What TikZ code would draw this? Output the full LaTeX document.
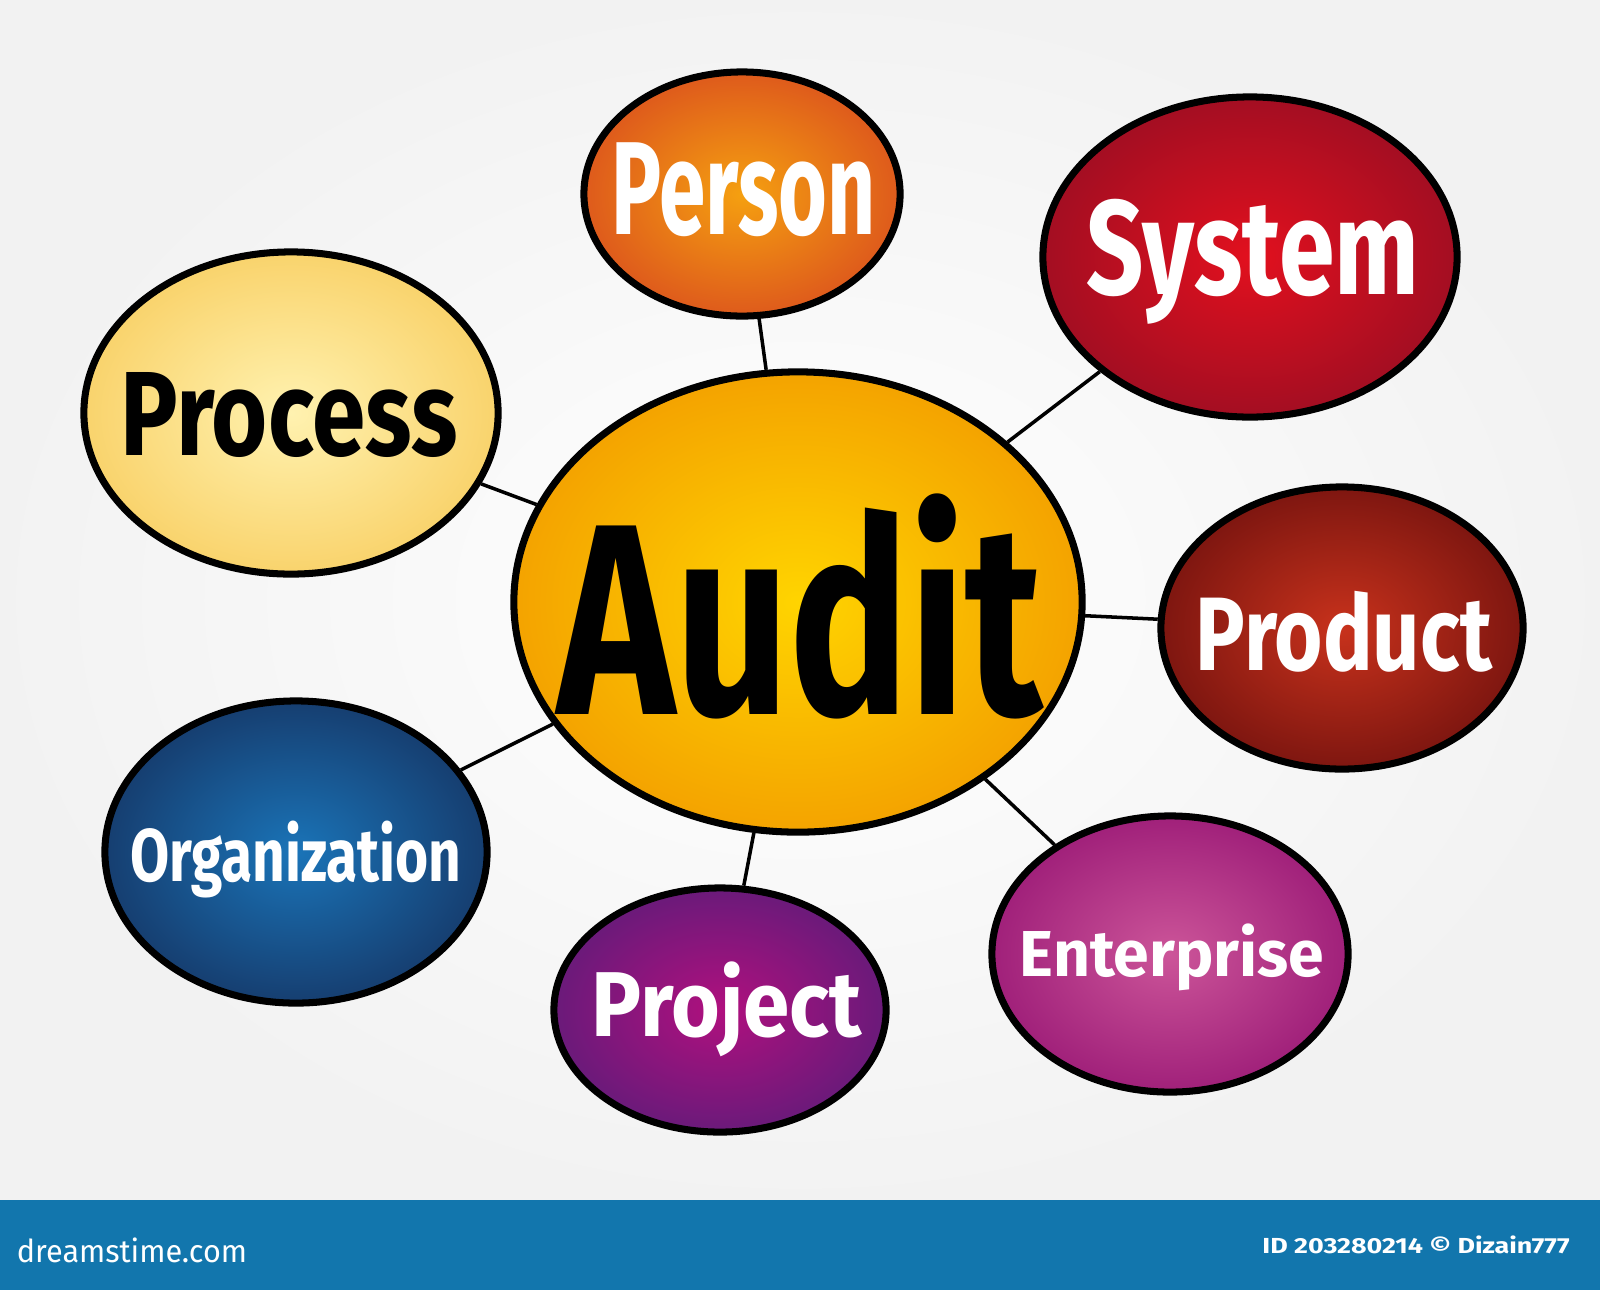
\documentclass[tikz,border=0pt]{standalone}
\usepackage{fontspec}
\setmainfont{Fira Sans}
\usepackage{graphicx}
\usetikzlibrary{shapes.geometric, positioning}

\definecolor{barblue}{HTML}{1276AD}
\definecolor{auditin}{HTML}{FFD400}
\definecolor{auditout}{HTML}{F4A300}
\definecolor{personin}{HTML}{F5A010}
\definecolor{personout}{HTML}{DE5A1C}
\definecolor{systemin}{HTML}{E2101E}
\definecolor{systemout}{HTML}{A30E22}
\definecolor{processin}{HTML}{FFF2B0}
\definecolor{processout}{HTML}{F9D36C}
\definecolor{productin}{HTML}{C8321C}
\definecolor{productout}{HTML}{7E1610}
\definecolor{orgin}{HTML}{1A74B8}
\definecolor{orgout}{HTML}{163E70}
\definecolor{projectin}{HTML}{B0107E}
\definecolor{projectout}{HTML}{6A1A7A}
\definecolor{enterin}{HTML}{CC5599}
\definecolor{enterout}{HTML}{A0207A}

\tikzstyle{bubble} = [ellipse, draw=black, line width=2pt, inner sep=0pt]
\tikzstyle{wordw} = [inner sep=0pt, font=\bfseries, text=white]
\tikzstyle{wordb} = [inner sep=0pt, font=\bfseries, text=black]
\tikzstyle{link} = [line width=1pt]

\newcommand{\fitword}[3]{\resizebox*{#1}{#2}{#3}}

\begin{document}
\begin{tikzpicture}[x=0.01cm, y=-0.01cm]
    \useasboundingbox (0,0) rectangle (1600,1290);
    \shade[inner color=white, outer color=black!5] (0,0) rectangle (1600,1200);
    \fill[barblue] (0,1200) rectangle (1600,1290);

    % center
    \node (audit) [bubble, minimum width=5.68cm, minimum height=4.60cm, inner color=auditin, outer color=auditout] at (798,602) {};
    % branches
    \node (person) [bubble, minimum width=3.16cm, minimum height=2.44cm, inner color=personin, outer color=personout] at (742,194) {};
    \node (system) [bubble, minimum width=4.14cm, minimum height=3.20cm, inner color=systemin, outer color=systemout] at (1250,257) {};
    \node (process) [bubble, minimum width=4.14cm, minimum height=3.22cm, inner color=processin, outer color=processout] at (291,413) {};
    \node (product) [bubble, minimum width=3.62cm, minimum height=2.82cm, inner color=productin, outer color=productout] at (1342,628) {};
    \node (organization) [bubble, minimum width=3.82cm, minimum height=3.02cm, inner color=orgin, outer color=orgout] at (296,852) {};
    \node (project) [bubble, minimum width=3.32cm, minimum height=2.44cm, inner color=projectin, outer color=projectout] at (720,1010) {};
    \node (enterprise) [bubble, minimum width=3.56cm, minimum height=2.76cm, inner color=enterin, outer color=enterout] at (1170,954) {};

    \draw[link] (audit) -- (person);
    \draw[link] (audit) -- (system);
    \draw[link] (audit) -- (process);
    \draw[link] (audit) -- (product);
    \draw[link] (audit) -- (organization);
    \draw[link] (audit) -- (project);
    \draw[link] (audit) -- (enterprise);

    % labels
    \node (audittxt) [wordb] at (800,606) {\fitword{4.85cm}{2.25cm}{Audit}};
    \node (persontxt) [wordw] at (744,190) {\fitword{2.64cm}{0.94cm}{Person}};
    \node (systemtxt) [wordw] at (1253,262) {\fitword{3.33cm}{1.25cm}{System}};
    \node (processtxt) [wordb] at (289,415) {\fitword{3.37cm}{0.85cm}{Process}};
    \node (producttxt) [wordw] at (1344,632) {\fitword{2.96cm}{0.81cm}{Product}};
    \node (orgtxt) [wordw] at (296,860) {\fitword{3.31cm}{0.77cm}{Organization}};
    \node (projecttxt) [wordw] at (727,1009) {\fitword{2.70cm}{0.95cm}{Project}};
    \node (entertxt) [wordw] at (1172,957) {\fitword{3.04cm}{0.67cm}{Enterprise}};

    % footer
    \node (site) [inner sep=0pt, text=white] at (132,1250) {\fitword{2.30cm}{0.25cm}{dreamstime.com}};
    \node (imageid) [wordw] at (1416,1245) {\fitword{3.07cm}{0.18cm}{ID 203280214 © Dizain777}};
\end{tikzpicture}
\end{document}
